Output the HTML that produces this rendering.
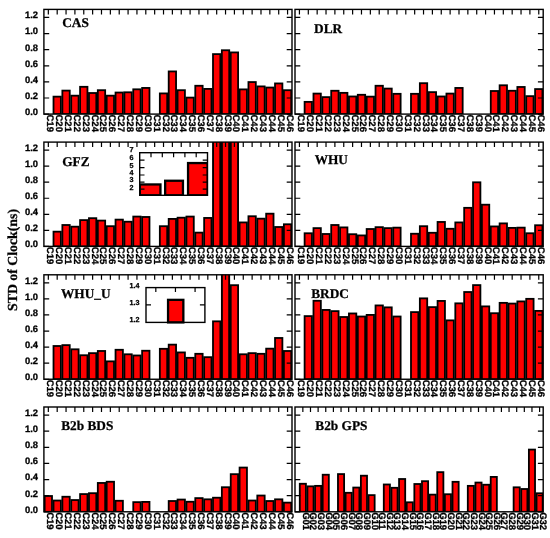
<!DOCTYPE html>
<html><head><meta charset="utf-8"><title>STD of Clock</title>
<style>html,body{margin:0;padding:0;background:#fff}svg{display:block}text{text-rendering:geometricPrecision}</style>
</head><body>
<svg width="550" height="538" viewBox="0 0 550 538">
<rect width="550" height="538" fill="#fff"/>
<clipPath id="cp00"><rect x="43.9" y="9.4" width="248.1" height="104.7"/></clipPath>
<g clip-path="url(#cp00)" fill="#ff0000" stroke="#000" stroke-width="1.8">
<rect x="53.51" y="96.64" width="7.36" height="17.46"/>
<rect x="62.37" y="90.6" width="7.36" height="23.5"/>
<rect x="71.23" y="95.67" width="7.36" height="18.43"/>
<rect x="80.09" y="86.81" width="7.36" height="27.29"/>
<rect x="88.95" y="93.01" width="7.36" height="21.09"/>
<rect x="97.81" y="90.19" width="7.36" height="23.91"/>
<rect x="106.67" y="95.67" width="7.36" height="18.43"/>
<rect x="115.54" y="92.53" width="7.36" height="21.57"/>
<rect x="124.4" y="92.29" width="7.36" height="21.81"/>
<rect x="133.26" y="89.31" width="7.36" height="24.79"/>
<rect x="142.12" y="87.94" width="7.36" height="26.16"/>
<rect x="159.84" y="93.42" width="7.36" height="20.68"/>
<rect x="168.7" y="71.43" width="7.36" height="42.67"/>
<rect x="177.56" y="90.19" width="7.36" height="23.91"/>
<rect x="186.42" y="97.6" width="7.36" height="16.5"/>
<rect x="195.28" y="85.76" width="7.36" height="28.34"/>
<rect x="204.14" y="88.91" width="7.36" height="25.19"/>
<rect x="213" y="54.11" width="7.36" height="59.99"/>
<rect x="221.86" y="50.25" width="7.36" height="63.85"/>
<rect x="230.73" y="52.42" width="7.36" height="61.68"/>
<rect x="239.59" y="89.39" width="7.36" height="24.71"/>
<rect x="248.45" y="82.06" width="7.36" height="32.04"/>
<rect x="257.31" y="86.41" width="7.36" height="27.69"/>
<rect x="266.17" y="87.54" width="7.36" height="26.56"/>
<rect x="275.03" y="83.43" width="7.36" height="30.67"/>
<rect x="283.89" y="90.19" width="7.36" height="23.91"/>
</g>
<path d="M48.33 9.4v5M57.19 9.4v5M66.05 9.4v5M74.91 9.4v5M83.77 9.4v5M92.63 9.4v5M101.49 9.4v5M110.36 9.4v5M119.22 9.4v5M128.08 9.4v5M136.94 9.4v5M145.8 9.4v5M154.66 9.4v5M163.52 9.4v5M172.38 9.4v5M181.24 9.4v5M190.1 9.4v5M198.96 9.4v5M207.82 9.4v5M216.68 9.4v5M225.54 9.4v5M234.41 9.4v5M243.27 9.4v5M252.13 9.4v5M260.99 9.4v5M269.85 9.4v5M278.71 9.4v5M287.57 9.4v5M43.9 114.1h5.3M292 114.1h-5.3M43.9 97.99h5.3M292 97.99h-5.3M43.9 81.88h5.3M292 81.88h-5.3M43.9 65.78h5.3M292 65.78h-5.3M43.9 49.67h5.3M292 49.67h-5.3M43.9 33.56h5.3M292 33.56h-5.3M43.9 17.45h5.3M292 17.45h-5.3" stroke="#000" stroke-width="1.2" fill="none"/>
<rect x="43.9" y="9.4" width="248.1" height="104.7" fill="none" stroke="#000" stroke-width="1.4"/>
<text x="62.2" y="27" font-family='"Liberation Serif", "Times New Roman", Times, serif' font-weight="bold" font-size="13.3" stroke="#000" stroke-width="0.25">CAS</text>
<text transform="translate(47.33 114.5) rotate(90)" font-family='"Liberation Sans", Arial, Helvetica, sans-serif' font-weight="bold" font-size="9.5" stroke="#000" stroke-width="0.3">C19</text>
<text transform="translate(56.19 114.5) rotate(90)" font-family='"Liberation Sans", Arial, Helvetica, sans-serif' font-weight="bold" font-size="9.5" stroke="#000" stroke-width="0.3">C20</text>
<text transform="translate(65.05 114.5) rotate(90)" font-family='"Liberation Sans", Arial, Helvetica, sans-serif' font-weight="bold" font-size="9.5" stroke="#000" stroke-width="0.3">C21</text>
<text transform="translate(73.91 114.5) rotate(90)" font-family='"Liberation Sans", Arial, Helvetica, sans-serif' font-weight="bold" font-size="9.5" stroke="#000" stroke-width="0.3">C22</text>
<text transform="translate(82.77 114.5) rotate(90)" font-family='"Liberation Sans", Arial, Helvetica, sans-serif' font-weight="bold" font-size="9.5" stroke="#000" stroke-width="0.3">C23</text>
<text transform="translate(91.63 114.5) rotate(90)" font-family='"Liberation Sans", Arial, Helvetica, sans-serif' font-weight="bold" font-size="9.5" stroke="#000" stroke-width="0.3">C24</text>
<text transform="translate(100.49 114.5) rotate(90)" font-family='"Liberation Sans", Arial, Helvetica, sans-serif' font-weight="bold" font-size="9.5" stroke="#000" stroke-width="0.3">C25</text>
<text transform="translate(109.36 114.5) rotate(90)" font-family='"Liberation Sans", Arial, Helvetica, sans-serif' font-weight="bold" font-size="9.5" stroke="#000" stroke-width="0.3">C26</text>
<text transform="translate(118.22 114.5) rotate(90)" font-family='"Liberation Sans", Arial, Helvetica, sans-serif' font-weight="bold" font-size="9.5" stroke="#000" stroke-width="0.3">C27</text>
<text transform="translate(127.08 114.5) rotate(90)" font-family='"Liberation Sans", Arial, Helvetica, sans-serif' font-weight="bold" font-size="9.5" stroke="#000" stroke-width="0.3">C28</text>
<text transform="translate(135.94 114.5) rotate(90)" font-family='"Liberation Sans", Arial, Helvetica, sans-serif' font-weight="bold" font-size="9.5" stroke="#000" stroke-width="0.3">C29</text>
<text transform="translate(144.8 114.5) rotate(90)" font-family='"Liberation Sans", Arial, Helvetica, sans-serif' font-weight="bold" font-size="9.5" stroke="#000" stroke-width="0.3">C30</text>
<text transform="translate(153.66 114.5) rotate(90)" font-family='"Liberation Sans", Arial, Helvetica, sans-serif' font-weight="bold" font-size="9.5" stroke="#000" stroke-width="0.3">C31</text>
<text transform="translate(162.52 114.5) rotate(90)" font-family='"Liberation Sans", Arial, Helvetica, sans-serif' font-weight="bold" font-size="9.5" stroke="#000" stroke-width="0.3">C32</text>
<text transform="translate(171.38 114.5) rotate(90)" font-family='"Liberation Sans", Arial, Helvetica, sans-serif' font-weight="bold" font-size="9.5" stroke="#000" stroke-width="0.3">C33</text>
<text transform="translate(180.24 114.5) rotate(90)" font-family='"Liberation Sans", Arial, Helvetica, sans-serif' font-weight="bold" font-size="9.5" stroke="#000" stroke-width="0.3">C34</text>
<text transform="translate(189.1 114.5) rotate(90)" font-family='"Liberation Sans", Arial, Helvetica, sans-serif' font-weight="bold" font-size="9.5" stroke="#000" stroke-width="0.3">C35</text>
<text transform="translate(197.96 114.5) rotate(90)" font-family='"Liberation Sans", Arial, Helvetica, sans-serif' font-weight="bold" font-size="9.5" stroke="#000" stroke-width="0.3">C36</text>
<text transform="translate(206.82 114.5) rotate(90)" font-family='"Liberation Sans", Arial, Helvetica, sans-serif' font-weight="bold" font-size="9.5" stroke="#000" stroke-width="0.3">C37</text>
<text transform="translate(215.68 114.5) rotate(90)" font-family='"Liberation Sans", Arial, Helvetica, sans-serif' font-weight="bold" font-size="9.5" stroke="#000" stroke-width="0.3">C38</text>
<text transform="translate(224.54 114.5) rotate(90)" font-family='"Liberation Sans", Arial, Helvetica, sans-serif' font-weight="bold" font-size="9.5" stroke="#000" stroke-width="0.3">C39</text>
<text transform="translate(233.41 114.5) rotate(90)" font-family='"Liberation Sans", Arial, Helvetica, sans-serif' font-weight="bold" font-size="9.5" stroke="#000" stroke-width="0.3">C40</text>
<text transform="translate(242.27 114.5) rotate(90)" font-family='"Liberation Sans", Arial, Helvetica, sans-serif' font-weight="bold" font-size="9.5" stroke="#000" stroke-width="0.3">C41</text>
<text transform="translate(251.13 114.5) rotate(90)" font-family='"Liberation Sans", Arial, Helvetica, sans-serif' font-weight="bold" font-size="9.5" stroke="#000" stroke-width="0.3">C42</text>
<text transform="translate(259.99 114.5) rotate(90)" font-family='"Liberation Sans", Arial, Helvetica, sans-serif' font-weight="bold" font-size="9.5" stroke="#000" stroke-width="0.3">C43</text>
<text transform="translate(268.85 114.5) rotate(90)" font-family='"Liberation Sans", Arial, Helvetica, sans-serif' font-weight="bold" font-size="9.5" stroke="#000" stroke-width="0.3">C44</text>
<text transform="translate(277.71 114.5) rotate(90)" font-family='"Liberation Sans", Arial, Helvetica, sans-serif' font-weight="bold" font-size="9.5" stroke="#000" stroke-width="0.3">C45</text>
<text transform="translate(286.57 114.5) rotate(90)" font-family='"Liberation Sans", Arial, Helvetica, sans-serif' font-weight="bold" font-size="9.5" stroke="#000" stroke-width="0.3">C46</text>
<text x="38.0" y="115" text-anchor="end" font-family='"Liberation Sans", Arial, Helvetica, sans-serif' font-weight="bold" font-size="9.4" stroke="#000" stroke-width="0.3">0.0</text>
<text x="38.0" y="98.89" text-anchor="end" font-family='"Liberation Sans", Arial, Helvetica, sans-serif' font-weight="bold" font-size="9.4" stroke="#000" stroke-width="0.3">0.2</text>
<text x="38.0" y="82.78" text-anchor="end" font-family='"Liberation Sans", Arial, Helvetica, sans-serif' font-weight="bold" font-size="9.4" stroke="#000" stroke-width="0.3">0.4</text>
<text x="38.0" y="66.68" text-anchor="end" font-family='"Liberation Sans", Arial, Helvetica, sans-serif' font-weight="bold" font-size="9.4" stroke="#000" stroke-width="0.3">0.6</text>
<text x="38.0" y="50.57" text-anchor="end" font-family='"Liberation Sans", Arial, Helvetica, sans-serif' font-weight="bold" font-size="9.4" stroke="#000" stroke-width="0.3">0.8</text>
<text x="38.0" y="34.46" text-anchor="end" font-family='"Liberation Sans", Arial, Helvetica, sans-serif' font-weight="bold" font-size="9.4" stroke="#000" stroke-width="0.3">1.0</text>
<text x="38.0" y="18.35" text-anchor="end" font-family='"Liberation Sans", Arial, Helvetica, sans-serif' font-weight="bold" font-size="9.4" stroke="#000" stroke-width="0.3">1.2</text>
<clipPath id="cp01"><rect x="295" y="9.4" width="248.2" height="104.7"/></clipPath>
<g clip-path="url(#cp01)" fill="#ff0000" stroke="#000" stroke-width="1.8">
<rect x="304.61" y="101.87" width="7.36" height="12.23"/>
<rect x="313.48" y="93.58" width="7.36" height="20.52"/>
<rect x="322.34" y="97.12" width="7.36" height="16.98"/>
<rect x="331.21" y="90.76" width="7.36" height="23.34"/>
<rect x="340.07" y="92.85" width="7.36" height="21.25"/>
<rect x="348.94" y="96.48" width="7.36" height="17.62"/>
<rect x="357.8" y="94.78" width="7.36" height="19.32"/>
<rect x="366.66" y="96.64" width="7.36" height="17.46"/>
<rect x="375.53" y="85.76" width="7.36" height="28.34"/>
<rect x="384.39" y="88.58" width="7.36" height="25.52"/>
<rect x="393.26" y="93.82" width="7.36" height="20.28"/>
<rect x="410.99" y="93.82" width="7.36" height="20.28"/>
<rect x="419.85" y="83.19" width="7.36" height="30.91"/>
<rect x="428.71" y="92.13" width="7.36" height="21.97"/>
<rect x="437.58" y="96.48" width="7.36" height="17.62"/>
<rect x="446.44" y="93.58" width="7.36" height="20.52"/>
<rect x="455.31" y="87.94" width="7.36" height="26.16"/>
<rect x="490.76" y="91" width="7.36" height="23.1"/>
<rect x="499.63" y="85.28" width="7.36" height="28.82"/>
<rect x="508.49" y="90.76" width="7.36" height="23.34"/>
<rect x="517.36" y="86.97" width="7.36" height="27.13"/>
<rect x="526.22" y="96.15" width="7.36" height="17.95"/>
<rect x="535.09" y="89.07" width="7.36" height="25.03"/>
</g>
<path d="M299.43 9.4v5M308.3 9.4v5M317.16 9.4v5M326.02 9.4v5M334.89 9.4v5M343.75 9.4v5M352.62 9.4v5M361.48 9.4v5M370.35 9.4v5M379.21 9.4v5M388.08 9.4v5M396.94 9.4v5M405.8 9.4v5M414.67 9.4v5M423.53 9.4v5M432.4 9.4v5M441.26 9.4v5M450.12 9.4v5M458.99 9.4v5M467.85 9.4v5M476.72 9.4v5M485.58 9.4v5M494.45 9.4v5M503.31 9.4v5M512.18 9.4v5M521.04 9.4v5M529.9 9.4v5M538.77 9.4v5M295 114.1h5.3M543.2 114.1h-5.3M295 97.99h5.3M543.2 97.99h-5.3M295 81.88h5.3M543.2 81.88h-5.3M295 65.78h5.3M543.2 65.78h-5.3M295 49.67h5.3M543.2 49.67h-5.3M295 33.56h5.3M543.2 33.56h-5.3M295 17.45h5.3M543.2 17.45h-5.3" stroke="#000" stroke-width="1.2" fill="none"/>
<rect x="295" y="9.4" width="248.2" height="104.7" fill="none" stroke="#000" stroke-width="1.4"/>
<text x="314.1" y="32.5" font-family='"Liberation Serif", "Times New Roman", Times, serif' font-weight="bold" font-size="13.3" stroke="#000" stroke-width="0.25">DLR</text>
<text transform="translate(298.43 114.5) rotate(90)" font-family='"Liberation Sans", Arial, Helvetica, sans-serif' font-weight="bold" font-size="9.5" stroke="#000" stroke-width="0.3">C19</text>
<text transform="translate(307.3 114.5) rotate(90)" font-family='"Liberation Sans", Arial, Helvetica, sans-serif' font-weight="bold" font-size="9.5" stroke="#000" stroke-width="0.3">C20</text>
<text transform="translate(316.16 114.5) rotate(90)" font-family='"Liberation Sans", Arial, Helvetica, sans-serif' font-weight="bold" font-size="9.5" stroke="#000" stroke-width="0.3">C21</text>
<text transform="translate(325.02 114.5) rotate(90)" font-family='"Liberation Sans", Arial, Helvetica, sans-serif' font-weight="bold" font-size="9.5" stroke="#000" stroke-width="0.3">C22</text>
<text transform="translate(333.89 114.5) rotate(90)" font-family='"Liberation Sans", Arial, Helvetica, sans-serif' font-weight="bold" font-size="9.5" stroke="#000" stroke-width="0.3">C23</text>
<text transform="translate(342.75 114.5) rotate(90)" font-family='"Liberation Sans", Arial, Helvetica, sans-serif' font-weight="bold" font-size="9.5" stroke="#000" stroke-width="0.3">C24</text>
<text transform="translate(351.62 114.5) rotate(90)" font-family='"Liberation Sans", Arial, Helvetica, sans-serif' font-weight="bold" font-size="9.5" stroke="#000" stroke-width="0.3">C25</text>
<text transform="translate(360.48 114.5) rotate(90)" font-family='"Liberation Sans", Arial, Helvetica, sans-serif' font-weight="bold" font-size="9.5" stroke="#000" stroke-width="0.3">C26</text>
<text transform="translate(369.35 114.5) rotate(90)" font-family='"Liberation Sans", Arial, Helvetica, sans-serif' font-weight="bold" font-size="9.5" stroke="#000" stroke-width="0.3">C27</text>
<text transform="translate(378.21 114.5) rotate(90)" font-family='"Liberation Sans", Arial, Helvetica, sans-serif' font-weight="bold" font-size="9.5" stroke="#000" stroke-width="0.3">C28</text>
<text transform="translate(387.08 114.5) rotate(90)" font-family='"Liberation Sans", Arial, Helvetica, sans-serif' font-weight="bold" font-size="9.5" stroke="#000" stroke-width="0.3">C29</text>
<text transform="translate(395.94 114.5) rotate(90)" font-family='"Liberation Sans", Arial, Helvetica, sans-serif' font-weight="bold" font-size="9.5" stroke="#000" stroke-width="0.3">C30</text>
<text transform="translate(404.8 114.5) rotate(90)" font-family='"Liberation Sans", Arial, Helvetica, sans-serif' font-weight="bold" font-size="9.5" stroke="#000" stroke-width="0.3">C31</text>
<text transform="translate(413.67 114.5) rotate(90)" font-family='"Liberation Sans", Arial, Helvetica, sans-serif' font-weight="bold" font-size="9.5" stroke="#000" stroke-width="0.3">C32</text>
<text transform="translate(422.53 114.5) rotate(90)" font-family='"Liberation Sans", Arial, Helvetica, sans-serif' font-weight="bold" font-size="9.5" stroke="#000" stroke-width="0.3">C33</text>
<text transform="translate(431.4 114.5) rotate(90)" font-family='"Liberation Sans", Arial, Helvetica, sans-serif' font-weight="bold" font-size="9.5" stroke="#000" stroke-width="0.3">C34</text>
<text transform="translate(440.26 114.5) rotate(90)" font-family='"Liberation Sans", Arial, Helvetica, sans-serif' font-weight="bold" font-size="9.5" stroke="#000" stroke-width="0.3">C35</text>
<text transform="translate(449.12 114.5) rotate(90)" font-family='"Liberation Sans", Arial, Helvetica, sans-serif' font-weight="bold" font-size="9.5" stroke="#000" stroke-width="0.3">C36</text>
<text transform="translate(457.99 114.5) rotate(90)" font-family='"Liberation Sans", Arial, Helvetica, sans-serif' font-weight="bold" font-size="9.5" stroke="#000" stroke-width="0.3">C37</text>
<text transform="translate(466.85 114.5) rotate(90)" font-family='"Liberation Sans", Arial, Helvetica, sans-serif' font-weight="bold" font-size="9.5" stroke="#000" stroke-width="0.3">C38</text>
<text transform="translate(475.72 114.5) rotate(90)" font-family='"Liberation Sans", Arial, Helvetica, sans-serif' font-weight="bold" font-size="9.5" stroke="#000" stroke-width="0.3">C39</text>
<text transform="translate(484.58 114.5) rotate(90)" font-family='"Liberation Sans", Arial, Helvetica, sans-serif' font-weight="bold" font-size="9.5" stroke="#000" stroke-width="0.3">C40</text>
<text transform="translate(493.45 114.5) rotate(90)" font-family='"Liberation Sans", Arial, Helvetica, sans-serif' font-weight="bold" font-size="9.5" stroke="#000" stroke-width="0.3">C41</text>
<text transform="translate(502.31 114.5) rotate(90)" font-family='"Liberation Sans", Arial, Helvetica, sans-serif' font-weight="bold" font-size="9.5" stroke="#000" stroke-width="0.3">C42</text>
<text transform="translate(511.18 114.5) rotate(90)" font-family='"Liberation Sans", Arial, Helvetica, sans-serif' font-weight="bold" font-size="9.5" stroke="#000" stroke-width="0.3">C43</text>
<text transform="translate(520.04 114.5) rotate(90)" font-family='"Liberation Sans", Arial, Helvetica, sans-serif' font-weight="bold" font-size="9.5" stroke="#000" stroke-width="0.3">C44</text>
<text transform="translate(528.9 114.5) rotate(90)" font-family='"Liberation Sans", Arial, Helvetica, sans-serif' font-weight="bold" font-size="9.5" stroke="#000" stroke-width="0.3">C45</text>
<text transform="translate(537.77 114.5) rotate(90)" font-family='"Liberation Sans", Arial, Helvetica, sans-serif' font-weight="bold" font-size="9.5" stroke="#000" stroke-width="0.3">C46</text>
<clipPath id="cp10"><rect x="43.9" y="142.1" width="248.1" height="104.3"/></clipPath>
<g clip-path="url(#cp10)" fill="#ff0000" stroke="#000" stroke-width="1.8">
<rect x="53.51" y="231.66" width="7.36" height="14.75"/>
<rect x="62.37" y="225" width="7.36" height="21.4"/>
<rect x="71.23" y="226.68" width="7.36" height="19.72"/>
<rect x="80.09" y="220.1" width="7.36" height="26.3"/>
<rect x="88.95" y="218.18" width="7.36" height="28.22"/>
<rect x="97.81" y="220.58" width="7.36" height="25.82"/>
<rect x="106.67" y="226.2" width="7.36" height="20.2"/>
<rect x="115.54" y="219.62" width="7.36" height="26.78"/>
<rect x="124.4" y="221.71" width="7.36" height="24.69"/>
<rect x="133.26" y="216.57" width="7.36" height="29.83"/>
<rect x="142.12" y="216.97" width="7.36" height="29.43"/>
<rect x="159.84" y="226.2" width="7.36" height="20.2"/>
<rect x="168.7" y="218.9" width="7.36" height="27.5"/>
<rect x="177.56" y="217.69" width="7.36" height="28.71"/>
<rect x="186.42" y="216.57" width="7.36" height="29.83"/>
<rect x="195.28" y="232.62" width="7.36" height="13.78"/>
<rect x="204.14" y="217.94" width="7.36" height="28.46"/>
<rect x="213.05" y="85.8" width="7.26" height="160.6" stroke-width="1.9"/>
<rect x="221.91" y="85.8" width="7.26" height="160.6" stroke-width="1.9"/>
<rect x="230.78" y="85.8" width="7.26" height="160.6" stroke-width="1.9"/>
<rect x="239.59" y="222.43" width="7.36" height="23.97"/>
<rect x="248.45" y="216.25" width="7.36" height="30.15"/>
<rect x="257.31" y="218.66" width="7.36" height="27.74"/>
<rect x="266.17" y="213.68" width="7.36" height="32.72"/>
<rect x="275.03" y="227" width="7.36" height="19.4"/>
<rect x="283.89" y="224.27" width="7.36" height="22.13"/>
</g>
<path d="M48.33 142.1v5M57.19 142.1v5M66.05 142.1v5M74.91 142.1v5M83.77 142.1v5M92.63 142.1v5M101.49 142.1v5M110.36 142.1v5M119.22 142.1v5M128.08 142.1v5M136.94 142.1v5M145.8 142.1v5M154.66 142.1v5M163.52 142.1v5M172.38 142.1v5M181.24 142.1v5M190.1 142.1v5M198.96 142.1v5M207.82 142.1v5M216.68 142.1v5M225.54 142.1v5M234.41 142.1v5M243.27 142.1v5M252.13 142.1v5M260.99 142.1v5M269.85 142.1v5M278.71 142.1v5M287.57 142.1v5M43.9 246.4h5.3M292 246.4h-5.3M43.9 230.35h5.3M292 230.35h-5.3M43.9 214.31h5.3M292 214.31h-5.3M43.9 198.26h5.3M292 198.26h-5.3M43.9 182.22h5.3M292 182.22h-5.3M43.9 166.17h5.3M292 166.17h-5.3M43.9 150.12h5.3M292 150.12h-5.3" stroke="#000" stroke-width="1.2" fill="none"/>
<rect x="43.9" y="142.1" width="248.1" height="104.3" fill="none" stroke="#000" stroke-width="1.4"/>
<text x="62.2" y="166.4" font-family='"Liberation Serif", "Times New Roman", Times, serif' font-weight="bold" font-size="13.3" stroke="#000" stroke-width="0.25">GFZ</text>
<text transform="translate(47.33 246.8) rotate(90)" font-family='"Liberation Sans", Arial, Helvetica, sans-serif' font-weight="bold" font-size="9.5" stroke="#000" stroke-width="0.3">C19</text>
<text transform="translate(56.19 246.8) rotate(90)" font-family='"Liberation Sans", Arial, Helvetica, sans-serif' font-weight="bold" font-size="9.5" stroke="#000" stroke-width="0.3">C20</text>
<text transform="translate(65.05 246.8) rotate(90)" font-family='"Liberation Sans", Arial, Helvetica, sans-serif' font-weight="bold" font-size="9.5" stroke="#000" stroke-width="0.3">C21</text>
<text transform="translate(73.91 246.8) rotate(90)" font-family='"Liberation Sans", Arial, Helvetica, sans-serif' font-weight="bold" font-size="9.5" stroke="#000" stroke-width="0.3">C22</text>
<text transform="translate(82.77 246.8) rotate(90)" font-family='"Liberation Sans", Arial, Helvetica, sans-serif' font-weight="bold" font-size="9.5" stroke="#000" stroke-width="0.3">C23</text>
<text transform="translate(91.63 246.8) rotate(90)" font-family='"Liberation Sans", Arial, Helvetica, sans-serif' font-weight="bold" font-size="9.5" stroke="#000" stroke-width="0.3">C24</text>
<text transform="translate(100.49 246.8) rotate(90)" font-family='"Liberation Sans", Arial, Helvetica, sans-serif' font-weight="bold" font-size="9.5" stroke="#000" stroke-width="0.3">C25</text>
<text transform="translate(109.36 246.8) rotate(90)" font-family='"Liberation Sans", Arial, Helvetica, sans-serif' font-weight="bold" font-size="9.5" stroke="#000" stroke-width="0.3">C26</text>
<text transform="translate(118.22 246.8) rotate(90)" font-family='"Liberation Sans", Arial, Helvetica, sans-serif' font-weight="bold" font-size="9.5" stroke="#000" stroke-width="0.3">C27</text>
<text transform="translate(127.08 246.8) rotate(90)" font-family='"Liberation Sans", Arial, Helvetica, sans-serif' font-weight="bold" font-size="9.5" stroke="#000" stroke-width="0.3">C28</text>
<text transform="translate(135.94 246.8) rotate(90)" font-family='"Liberation Sans", Arial, Helvetica, sans-serif' font-weight="bold" font-size="9.5" stroke="#000" stroke-width="0.3">C29</text>
<text transform="translate(144.8 246.8) rotate(90)" font-family='"Liberation Sans", Arial, Helvetica, sans-serif' font-weight="bold" font-size="9.5" stroke="#000" stroke-width="0.3">C30</text>
<text transform="translate(153.66 246.8) rotate(90)" font-family='"Liberation Sans", Arial, Helvetica, sans-serif' font-weight="bold" font-size="9.5" stroke="#000" stroke-width="0.3">C31</text>
<text transform="translate(162.52 246.8) rotate(90)" font-family='"Liberation Sans", Arial, Helvetica, sans-serif' font-weight="bold" font-size="9.5" stroke="#000" stroke-width="0.3">C32</text>
<text transform="translate(171.38 246.8) rotate(90)" font-family='"Liberation Sans", Arial, Helvetica, sans-serif' font-weight="bold" font-size="9.5" stroke="#000" stroke-width="0.3">C33</text>
<text transform="translate(180.24 246.8) rotate(90)" font-family='"Liberation Sans", Arial, Helvetica, sans-serif' font-weight="bold" font-size="9.5" stroke="#000" stroke-width="0.3">C34</text>
<text transform="translate(189.1 246.8) rotate(90)" font-family='"Liberation Sans", Arial, Helvetica, sans-serif' font-weight="bold" font-size="9.5" stroke="#000" stroke-width="0.3">C35</text>
<text transform="translate(197.96 246.8) rotate(90)" font-family='"Liberation Sans", Arial, Helvetica, sans-serif' font-weight="bold" font-size="9.5" stroke="#000" stroke-width="0.3">C36</text>
<text transform="translate(206.82 246.8) rotate(90)" font-family='"Liberation Sans", Arial, Helvetica, sans-serif' font-weight="bold" font-size="9.5" stroke="#000" stroke-width="0.3">C37</text>
<text transform="translate(215.68 246.8) rotate(90)" font-family='"Liberation Sans", Arial, Helvetica, sans-serif' font-weight="bold" font-size="9.5" stroke="#000" stroke-width="0.3">C38</text>
<text transform="translate(224.54 246.8) rotate(90)" font-family='"Liberation Sans", Arial, Helvetica, sans-serif' font-weight="bold" font-size="9.5" stroke="#000" stroke-width="0.3">C39</text>
<text transform="translate(233.41 246.8) rotate(90)" font-family='"Liberation Sans", Arial, Helvetica, sans-serif' font-weight="bold" font-size="9.5" stroke="#000" stroke-width="0.3">C40</text>
<text transform="translate(242.27 246.8) rotate(90)" font-family='"Liberation Sans", Arial, Helvetica, sans-serif' font-weight="bold" font-size="9.5" stroke="#000" stroke-width="0.3">C41</text>
<text transform="translate(251.13 246.8) rotate(90)" font-family='"Liberation Sans", Arial, Helvetica, sans-serif' font-weight="bold" font-size="9.5" stroke="#000" stroke-width="0.3">C42</text>
<text transform="translate(259.99 246.8) rotate(90)" font-family='"Liberation Sans", Arial, Helvetica, sans-serif' font-weight="bold" font-size="9.5" stroke="#000" stroke-width="0.3">C43</text>
<text transform="translate(268.85 246.8) rotate(90)" font-family='"Liberation Sans", Arial, Helvetica, sans-serif' font-weight="bold" font-size="9.5" stroke="#000" stroke-width="0.3">C44</text>
<text transform="translate(277.71 246.8) rotate(90)" font-family='"Liberation Sans", Arial, Helvetica, sans-serif' font-weight="bold" font-size="9.5" stroke="#000" stroke-width="0.3">C45</text>
<text transform="translate(286.57 246.8) rotate(90)" font-family='"Liberation Sans", Arial, Helvetica, sans-serif' font-weight="bold" font-size="9.5" stroke="#000" stroke-width="0.3">C46</text>
<text x="38.0" y="247.3" text-anchor="end" font-family='"Liberation Sans", Arial, Helvetica, sans-serif' font-weight="bold" font-size="9.4" stroke="#000" stroke-width="0.3">0.0</text>
<text x="38.0" y="231.25" text-anchor="end" font-family='"Liberation Sans", Arial, Helvetica, sans-serif' font-weight="bold" font-size="9.4" stroke="#000" stroke-width="0.3">0.2</text>
<text x="38.0" y="215.21" text-anchor="end" font-family='"Liberation Sans", Arial, Helvetica, sans-serif' font-weight="bold" font-size="9.4" stroke="#000" stroke-width="0.3">0.4</text>
<text x="38.0" y="199.16" text-anchor="end" font-family='"Liberation Sans", Arial, Helvetica, sans-serif' font-weight="bold" font-size="9.4" stroke="#000" stroke-width="0.3">0.6</text>
<text x="38.0" y="183.12" text-anchor="end" font-family='"Liberation Sans", Arial, Helvetica, sans-serif' font-weight="bold" font-size="9.4" stroke="#000" stroke-width="0.3">0.8</text>
<text x="38.0" y="167.07" text-anchor="end" font-family='"Liberation Sans", Arial, Helvetica, sans-serif' font-weight="bold" font-size="9.4" stroke="#000" stroke-width="0.3">1.0</text>
<text x="38.0" y="151.02" text-anchor="end" font-family='"Liberation Sans", Arial, Helvetica, sans-serif' font-weight="bold" font-size="9.4" stroke="#000" stroke-width="0.3">1.2</text>
<clipPath id="cp11"><rect x="295" y="142.1" width="248.2" height="104.3"/></clipPath>
<g clip-path="url(#cp11)" fill="#ff0000" stroke="#000" stroke-width="1.8">
<rect x="304.61" y="233.26" width="7.36" height="13.14"/>
<rect x="313.48" y="228.12" width="7.36" height="18.28"/>
<rect x="322.34" y="233.98" width="7.36" height="12.42"/>
<rect x="331.21" y="225" width="7.36" height="21.4"/>
<rect x="340.07" y="227.4" width="7.36" height="19"/>
<rect x="348.94" y="234.22" width="7.36" height="12.18"/>
<rect x="357.8" y="235.43" width="7.36" height="10.97"/>
<rect x="366.66" y="229.01" width="7.36" height="17.39"/>
<rect x="375.53" y="227.16" width="7.36" height="19.24"/>
<rect x="384.39" y="228.12" width="7.36" height="18.28"/>
<rect x="393.26" y="227.64" width="7.36" height="18.76"/>
<rect x="410.99" y="233.74" width="7.36" height="12.66"/>
<rect x="419.85" y="226.2" width="7.36" height="20.2"/>
<rect x="428.71" y="232.78" width="7.36" height="13.62"/>
<rect x="437.58" y="221.95" width="7.36" height="24.45"/>
<rect x="446.44" y="228.77" width="7.36" height="17.63"/>
<rect x="455.31" y="222.43" width="7.36" height="23.97"/>
<rect x="464.17" y="207.83" width="7.36" height="38.57"/>
<rect x="473.04" y="182.31" width="7.36" height="64.09"/>
<rect x="481.9" y="204.7" width="7.36" height="41.7"/>
<rect x="490.76" y="226.44" width="7.36" height="19.96"/>
<rect x="499.63" y="223.39" width="7.36" height="23.01"/>
<rect x="508.49" y="227.88" width="7.36" height="18.52"/>
<rect x="517.36" y="227.64" width="7.36" height="18.76"/>
<rect x="526.22" y="233.26" width="7.36" height="13.14"/>
<rect x="535.09" y="225.24" width="7.36" height="21.16"/>
</g>
<path d="M299.43 142.1v5M308.3 142.1v5M317.16 142.1v5M326.02 142.1v5M334.89 142.1v5M343.75 142.1v5M352.62 142.1v5M361.48 142.1v5M370.35 142.1v5M379.21 142.1v5M388.08 142.1v5M396.94 142.1v5M405.8 142.1v5M414.67 142.1v5M423.53 142.1v5M432.4 142.1v5M441.26 142.1v5M450.12 142.1v5M458.99 142.1v5M467.85 142.1v5M476.72 142.1v5M485.58 142.1v5M494.45 142.1v5M503.31 142.1v5M512.18 142.1v5M521.04 142.1v5M529.9 142.1v5M538.77 142.1v5M295 246.4h5.3M543.2 246.4h-5.3M295 230.35h5.3M543.2 230.35h-5.3M295 214.31h5.3M543.2 214.31h-5.3M295 198.26h5.3M543.2 198.26h-5.3M295 182.22h5.3M543.2 182.22h-5.3M295 166.17h5.3M543.2 166.17h-5.3M295 150.12h5.3M543.2 150.12h-5.3" stroke="#000" stroke-width="1.2" fill="none"/>
<rect x="295" y="142.1" width="248.2" height="104.3" fill="none" stroke="#000" stroke-width="1.4"/>
<text x="314.7" y="163.9" font-family='"Liberation Serif", "Times New Roman", Times, serif' font-weight="bold" font-size="13.3" stroke="#000" stroke-width="0.25">WHU</text>
<text transform="translate(298.43 246.8) rotate(90)" font-family='"Liberation Sans", Arial, Helvetica, sans-serif' font-weight="bold" font-size="9.5" stroke="#000" stroke-width="0.3">C19</text>
<text transform="translate(307.3 246.8) rotate(90)" font-family='"Liberation Sans", Arial, Helvetica, sans-serif' font-weight="bold" font-size="9.5" stroke="#000" stroke-width="0.3">C20</text>
<text transform="translate(316.16 246.8) rotate(90)" font-family='"Liberation Sans", Arial, Helvetica, sans-serif' font-weight="bold" font-size="9.5" stroke="#000" stroke-width="0.3">C21</text>
<text transform="translate(325.02 246.8) rotate(90)" font-family='"Liberation Sans", Arial, Helvetica, sans-serif' font-weight="bold" font-size="9.5" stroke="#000" stroke-width="0.3">C22</text>
<text transform="translate(333.89 246.8) rotate(90)" font-family='"Liberation Sans", Arial, Helvetica, sans-serif' font-weight="bold" font-size="9.5" stroke="#000" stroke-width="0.3">C23</text>
<text transform="translate(342.75 246.8) rotate(90)" font-family='"Liberation Sans", Arial, Helvetica, sans-serif' font-weight="bold" font-size="9.5" stroke="#000" stroke-width="0.3">C24</text>
<text transform="translate(351.62 246.8) rotate(90)" font-family='"Liberation Sans", Arial, Helvetica, sans-serif' font-weight="bold" font-size="9.5" stroke="#000" stroke-width="0.3">C25</text>
<text transform="translate(360.48 246.8) rotate(90)" font-family='"Liberation Sans", Arial, Helvetica, sans-serif' font-weight="bold" font-size="9.5" stroke="#000" stroke-width="0.3">C26</text>
<text transform="translate(369.35 246.8) rotate(90)" font-family='"Liberation Sans", Arial, Helvetica, sans-serif' font-weight="bold" font-size="9.5" stroke="#000" stroke-width="0.3">C27</text>
<text transform="translate(378.21 246.8) rotate(90)" font-family='"Liberation Sans", Arial, Helvetica, sans-serif' font-weight="bold" font-size="9.5" stroke="#000" stroke-width="0.3">C28</text>
<text transform="translate(387.08 246.8) rotate(90)" font-family='"Liberation Sans", Arial, Helvetica, sans-serif' font-weight="bold" font-size="9.5" stroke="#000" stroke-width="0.3">C29</text>
<text transform="translate(395.94 246.8) rotate(90)" font-family='"Liberation Sans", Arial, Helvetica, sans-serif' font-weight="bold" font-size="9.5" stroke="#000" stroke-width="0.3">C30</text>
<text transform="translate(404.8 246.8) rotate(90)" font-family='"Liberation Sans", Arial, Helvetica, sans-serif' font-weight="bold" font-size="9.5" stroke="#000" stroke-width="0.3">C31</text>
<text transform="translate(413.67 246.8) rotate(90)" font-family='"Liberation Sans", Arial, Helvetica, sans-serif' font-weight="bold" font-size="9.5" stroke="#000" stroke-width="0.3">C32</text>
<text transform="translate(422.53 246.8) rotate(90)" font-family='"Liberation Sans", Arial, Helvetica, sans-serif' font-weight="bold" font-size="9.5" stroke="#000" stroke-width="0.3">C33</text>
<text transform="translate(431.4 246.8) rotate(90)" font-family='"Liberation Sans", Arial, Helvetica, sans-serif' font-weight="bold" font-size="9.5" stroke="#000" stroke-width="0.3">C34</text>
<text transform="translate(440.26 246.8) rotate(90)" font-family='"Liberation Sans", Arial, Helvetica, sans-serif' font-weight="bold" font-size="9.5" stroke="#000" stroke-width="0.3">C35</text>
<text transform="translate(449.12 246.8) rotate(90)" font-family='"Liberation Sans", Arial, Helvetica, sans-serif' font-weight="bold" font-size="9.5" stroke="#000" stroke-width="0.3">C36</text>
<text transform="translate(457.99 246.8) rotate(90)" font-family='"Liberation Sans", Arial, Helvetica, sans-serif' font-weight="bold" font-size="9.5" stroke="#000" stroke-width="0.3">C37</text>
<text transform="translate(466.85 246.8) rotate(90)" font-family='"Liberation Sans", Arial, Helvetica, sans-serif' font-weight="bold" font-size="9.5" stroke="#000" stroke-width="0.3">C38</text>
<text transform="translate(475.72 246.8) rotate(90)" font-family='"Liberation Sans", Arial, Helvetica, sans-serif' font-weight="bold" font-size="9.5" stroke="#000" stroke-width="0.3">C39</text>
<text transform="translate(484.58 246.8) rotate(90)" font-family='"Liberation Sans", Arial, Helvetica, sans-serif' font-weight="bold" font-size="9.5" stroke="#000" stroke-width="0.3">C40</text>
<text transform="translate(493.45 246.8) rotate(90)" font-family='"Liberation Sans", Arial, Helvetica, sans-serif' font-weight="bold" font-size="9.5" stroke="#000" stroke-width="0.3">C41</text>
<text transform="translate(502.31 246.8) rotate(90)" font-family='"Liberation Sans", Arial, Helvetica, sans-serif' font-weight="bold" font-size="9.5" stroke="#000" stroke-width="0.3">C42</text>
<text transform="translate(511.18 246.8) rotate(90)" font-family='"Liberation Sans", Arial, Helvetica, sans-serif' font-weight="bold" font-size="9.5" stroke="#000" stroke-width="0.3">C43</text>
<text transform="translate(520.04 246.8) rotate(90)" font-family='"Liberation Sans", Arial, Helvetica, sans-serif' font-weight="bold" font-size="9.5" stroke="#000" stroke-width="0.3">C44</text>
<text transform="translate(528.9 246.8) rotate(90)" font-family='"Liberation Sans", Arial, Helvetica, sans-serif' font-weight="bold" font-size="9.5" stroke="#000" stroke-width="0.3">C45</text>
<text transform="translate(537.77 246.8) rotate(90)" font-family='"Liberation Sans", Arial, Helvetica, sans-serif' font-weight="bold" font-size="9.5" stroke="#000" stroke-width="0.3">C46</text>
<clipPath id="cp20"><rect x="43.9" y="274.8" width="248.1" height="104.45"/></clipPath>
<g clip-path="url(#cp20)" fill="#ff0000" stroke="#000" stroke-width="1.8">
<rect x="53.51" y="346" width="7.36" height="33.25"/>
<rect x="62.37" y="345.12" width="7.36" height="34.13"/>
<rect x="71.23" y="349.3" width="7.36" height="29.95"/>
<rect x="80.09" y="355.24" width="7.36" height="24.01"/>
<rect x="88.95" y="353.15" width="7.36" height="26.1"/>
<rect x="97.81" y="350.98" width="7.36" height="28.27"/>
<rect x="106.67" y="361.35" width="7.36" height="17.9"/>
<rect x="115.54" y="349.78" width="7.36" height="29.47"/>
<rect x="124.4" y="354.28" width="7.36" height="24.97"/>
<rect x="133.26" y="355.48" width="7.36" height="23.77"/>
<rect x="142.12" y="350.74" width="7.36" height="28.51"/>
<rect x="159.84" y="348.81" width="7.36" height="30.43"/>
<rect x="168.7" y="344.64" width="7.36" height="34.61"/>
<rect x="177.56" y="352.43" width="7.36" height="26.82"/>
<rect x="186.42" y="357.81" width="7.36" height="21.44"/>
<rect x="195.28" y="353.8" width="7.36" height="25.45"/>
<rect x="204.14" y="357.17" width="7.36" height="22.08"/>
<rect x="213" y="321.34" width="7.36" height="57.91"/>
<rect x="221.91" y="218.65" width="7.26" height="160.6" stroke-width="1.9"/>
<rect x="230.73" y="285.18" width="7.36" height="94.07"/>
<rect x="239.59" y="354.28" width="7.36" height="24.97"/>
<rect x="248.45" y="353.15" width="7.36" height="26.1"/>
<rect x="257.31" y="353.8" width="7.36" height="25.45"/>
<rect x="266.17" y="348.65" width="7.36" height="30.6"/>
<rect x="275.03" y="337.97" width="7.36" height="41.28"/>
<rect x="283.89" y="350.98" width="7.36" height="28.27"/>
</g>
<path d="M48.33 274.8v5M57.19 274.8v5M66.05 274.8v5M74.91 274.8v5M83.77 274.8v5M92.63 274.8v5M101.49 274.8v5M110.36 274.8v5M119.22 274.8v5M128.08 274.8v5M136.94 274.8v5M145.8 274.8v5M154.66 274.8v5M163.52 274.8v5M172.38 274.8v5M181.24 274.8v5M190.1 274.8v5M198.96 274.8v5M207.82 274.8v5M216.68 274.8v5M225.54 274.8v5M234.41 274.8v5M243.27 274.8v5M252.13 274.8v5M260.99 274.8v5M269.85 274.8v5M278.71 274.8v5M287.57 274.8v5M43.9 379.25h5.3M292 379.25h-5.3M43.9 363.18h5.3M292 363.18h-5.3M43.9 347.11h5.3M292 347.11h-5.3M43.9 331.04h5.3M292 331.04h-5.3M43.9 314.97h5.3M292 314.97h-5.3M43.9 298.9h5.3M292 298.9h-5.3M43.9 282.83h5.3M292 282.83h-5.3" stroke="#000" stroke-width="1.2" fill="none"/>
<rect x="43.9" y="274.8" width="248.1" height="104.45" fill="none" stroke="#000" stroke-width="1.4"/>
<text x="61" y="298.4" font-family='"Liberation Serif", "Times New Roman", Times, serif' font-weight="bold" font-size="13.3" stroke="#000" stroke-width="0.25">WHU_U</text>
<text transform="translate(47.33 379.65) rotate(90)" font-family='"Liberation Sans", Arial, Helvetica, sans-serif' font-weight="bold" font-size="9.5" stroke="#000" stroke-width="0.3">C19</text>
<text transform="translate(56.19 379.65) rotate(90)" font-family='"Liberation Sans", Arial, Helvetica, sans-serif' font-weight="bold" font-size="9.5" stroke="#000" stroke-width="0.3">C20</text>
<text transform="translate(65.05 379.65) rotate(90)" font-family='"Liberation Sans", Arial, Helvetica, sans-serif' font-weight="bold" font-size="9.5" stroke="#000" stroke-width="0.3">C21</text>
<text transform="translate(73.91 379.65) rotate(90)" font-family='"Liberation Sans", Arial, Helvetica, sans-serif' font-weight="bold" font-size="9.5" stroke="#000" stroke-width="0.3">C22</text>
<text transform="translate(82.77 379.65) rotate(90)" font-family='"Liberation Sans", Arial, Helvetica, sans-serif' font-weight="bold" font-size="9.5" stroke="#000" stroke-width="0.3">C23</text>
<text transform="translate(91.63 379.65) rotate(90)" font-family='"Liberation Sans", Arial, Helvetica, sans-serif' font-weight="bold" font-size="9.5" stroke="#000" stroke-width="0.3">C24</text>
<text transform="translate(100.49 379.65) rotate(90)" font-family='"Liberation Sans", Arial, Helvetica, sans-serif' font-weight="bold" font-size="9.5" stroke="#000" stroke-width="0.3">C25</text>
<text transform="translate(109.36 379.65) rotate(90)" font-family='"Liberation Sans", Arial, Helvetica, sans-serif' font-weight="bold" font-size="9.5" stroke="#000" stroke-width="0.3">C26</text>
<text transform="translate(118.22 379.65) rotate(90)" font-family='"Liberation Sans", Arial, Helvetica, sans-serif' font-weight="bold" font-size="9.5" stroke="#000" stroke-width="0.3">C27</text>
<text transform="translate(127.08 379.65) rotate(90)" font-family='"Liberation Sans", Arial, Helvetica, sans-serif' font-weight="bold" font-size="9.5" stroke="#000" stroke-width="0.3">C28</text>
<text transform="translate(135.94 379.65) rotate(90)" font-family='"Liberation Sans", Arial, Helvetica, sans-serif' font-weight="bold" font-size="9.5" stroke="#000" stroke-width="0.3">C29</text>
<text transform="translate(144.8 379.65) rotate(90)" font-family='"Liberation Sans", Arial, Helvetica, sans-serif' font-weight="bold" font-size="9.5" stroke="#000" stroke-width="0.3">C30</text>
<text transform="translate(153.66 379.65) rotate(90)" font-family='"Liberation Sans", Arial, Helvetica, sans-serif' font-weight="bold" font-size="9.5" stroke="#000" stroke-width="0.3">C31</text>
<text transform="translate(162.52 379.65) rotate(90)" font-family='"Liberation Sans", Arial, Helvetica, sans-serif' font-weight="bold" font-size="9.5" stroke="#000" stroke-width="0.3">C32</text>
<text transform="translate(171.38 379.65) rotate(90)" font-family='"Liberation Sans", Arial, Helvetica, sans-serif' font-weight="bold" font-size="9.5" stroke="#000" stroke-width="0.3">C33</text>
<text transform="translate(180.24 379.65) rotate(90)" font-family='"Liberation Sans", Arial, Helvetica, sans-serif' font-weight="bold" font-size="9.5" stroke="#000" stroke-width="0.3">C34</text>
<text transform="translate(189.1 379.65) rotate(90)" font-family='"Liberation Sans", Arial, Helvetica, sans-serif' font-weight="bold" font-size="9.5" stroke="#000" stroke-width="0.3">C35</text>
<text transform="translate(197.96 379.65) rotate(90)" font-family='"Liberation Sans", Arial, Helvetica, sans-serif' font-weight="bold" font-size="9.5" stroke="#000" stroke-width="0.3">C36</text>
<text transform="translate(206.82 379.65) rotate(90)" font-family='"Liberation Sans", Arial, Helvetica, sans-serif' font-weight="bold" font-size="9.5" stroke="#000" stroke-width="0.3">C37</text>
<text transform="translate(215.68 379.65) rotate(90)" font-family='"Liberation Sans", Arial, Helvetica, sans-serif' font-weight="bold" font-size="9.5" stroke="#000" stroke-width="0.3">C38</text>
<text transform="translate(224.54 379.65) rotate(90)" font-family='"Liberation Sans", Arial, Helvetica, sans-serif' font-weight="bold" font-size="9.5" stroke="#000" stroke-width="0.3">C39</text>
<text transform="translate(233.41 379.65) rotate(90)" font-family='"Liberation Sans", Arial, Helvetica, sans-serif' font-weight="bold" font-size="9.5" stroke="#000" stroke-width="0.3">C40</text>
<text transform="translate(242.27 379.65) rotate(90)" font-family='"Liberation Sans", Arial, Helvetica, sans-serif' font-weight="bold" font-size="9.5" stroke="#000" stroke-width="0.3">C41</text>
<text transform="translate(251.13 379.65) rotate(90)" font-family='"Liberation Sans", Arial, Helvetica, sans-serif' font-weight="bold" font-size="9.5" stroke="#000" stroke-width="0.3">C42</text>
<text transform="translate(259.99 379.65) rotate(90)" font-family='"Liberation Sans", Arial, Helvetica, sans-serif' font-weight="bold" font-size="9.5" stroke="#000" stroke-width="0.3">C43</text>
<text transform="translate(268.85 379.65) rotate(90)" font-family='"Liberation Sans", Arial, Helvetica, sans-serif' font-weight="bold" font-size="9.5" stroke="#000" stroke-width="0.3">C44</text>
<text transform="translate(277.71 379.65) rotate(90)" font-family='"Liberation Sans", Arial, Helvetica, sans-serif' font-weight="bold" font-size="9.5" stroke="#000" stroke-width="0.3">C45</text>
<text transform="translate(286.57 379.65) rotate(90)" font-family='"Liberation Sans", Arial, Helvetica, sans-serif' font-weight="bold" font-size="9.5" stroke="#000" stroke-width="0.3">C46</text>
<text x="38.0" y="380.15" text-anchor="end" font-family='"Liberation Sans", Arial, Helvetica, sans-serif' font-weight="bold" font-size="9.4" stroke="#000" stroke-width="0.3">0.0</text>
<text x="38.0" y="364.08" text-anchor="end" font-family='"Liberation Sans", Arial, Helvetica, sans-serif' font-weight="bold" font-size="9.4" stroke="#000" stroke-width="0.3">0.2</text>
<text x="38.0" y="348.01" text-anchor="end" font-family='"Liberation Sans", Arial, Helvetica, sans-serif' font-weight="bold" font-size="9.4" stroke="#000" stroke-width="0.3">0.4</text>
<text x="38.0" y="331.94" text-anchor="end" font-family='"Liberation Sans", Arial, Helvetica, sans-serif' font-weight="bold" font-size="9.4" stroke="#000" stroke-width="0.3">0.6</text>
<text x="38.0" y="315.87" text-anchor="end" font-family='"Liberation Sans", Arial, Helvetica, sans-serif' font-weight="bold" font-size="9.4" stroke="#000" stroke-width="0.3">0.8</text>
<text x="38.0" y="299.8" text-anchor="end" font-family='"Liberation Sans", Arial, Helvetica, sans-serif' font-weight="bold" font-size="9.4" stroke="#000" stroke-width="0.3">1.0</text>
<text x="38.0" y="283.73" text-anchor="end" font-family='"Liberation Sans", Arial, Helvetica, sans-serif' font-weight="bold" font-size="9.4" stroke="#000" stroke-width="0.3">1.2</text>
<clipPath id="cp21"><rect x="295" y="274.8" width="248.2" height="104.45"/></clipPath>
<g clip-path="url(#cp21)" fill="#ff0000" stroke="#000" stroke-width="1.8">
<rect x="304.61" y="316.11" width="7.36" height="63.14"/>
<rect x="313.48" y="300.77" width="7.36" height="78.48"/>
<rect x="322.34" y="309.93" width="7.36" height="69.32"/>
<rect x="331.21" y="311.13" width="7.36" height="68.12"/>
<rect x="340.07" y="317" width="7.36" height="62.25"/>
<rect x="348.94" y="313.46" width="7.36" height="65.79"/>
<rect x="357.8" y="316.52" width="7.36" height="62.73"/>
<rect x="366.66" y="314.91" width="7.36" height="64.34"/>
<rect x="375.53" y="305.43" width="7.36" height="73.82"/>
<rect x="384.39" y="307.36" width="7.36" height="71.89"/>
<rect x="393.26" y="316.52" width="7.36" height="62.73"/>
<rect x="410.99" y="312.1" width="7.36" height="67.15"/>
<rect x="419.85" y="298.36" width="7.36" height="80.89"/>
<rect x="428.71" y="307.12" width="7.36" height="72.13"/>
<rect x="437.58" y="300.93" width="7.36" height="78.32"/>
<rect x="446.44" y="320.37" width="7.36" height="58.88"/>
<rect x="455.31" y="303.34" width="7.36" height="75.91"/>
<rect x="464.17" y="292.01" width="7.36" height="87.24"/>
<rect x="473.04" y="285.1" width="7.36" height="94.15"/>
<rect x="481.9" y="306.39" width="7.36" height="72.86"/>
<rect x="490.76" y="313.22" width="7.36" height="66.03"/>
<rect x="499.63" y="302.86" width="7.36" height="76.39"/>
<rect x="508.49" y="303.58" width="7.36" height="75.67"/>
<rect x="517.36" y="301.41" width="7.36" height="77.84"/>
<rect x="526.22" y="298.84" width="7.36" height="80.41"/>
<rect x="535.09" y="310.89" width="7.36" height="68.36"/>
</g>
<path d="M299.43 274.8v5M308.3 274.8v5M317.16 274.8v5M326.02 274.8v5M334.89 274.8v5M343.75 274.8v5M352.62 274.8v5M361.48 274.8v5M370.35 274.8v5M379.21 274.8v5M388.08 274.8v5M396.94 274.8v5M405.8 274.8v5M414.67 274.8v5M423.53 274.8v5M432.4 274.8v5M441.26 274.8v5M450.12 274.8v5M458.99 274.8v5M467.85 274.8v5M476.72 274.8v5M485.58 274.8v5M494.45 274.8v5M503.31 274.8v5M512.18 274.8v5M521.04 274.8v5M529.9 274.8v5M538.77 274.8v5M295 379.25h5.3M543.2 379.25h-5.3M295 363.18h5.3M543.2 363.18h-5.3M295 347.11h5.3M543.2 347.11h-5.3M295 331.04h5.3M543.2 331.04h-5.3M295 314.97h5.3M543.2 314.97h-5.3M295 298.9h5.3M543.2 298.9h-5.3M295 282.83h5.3M543.2 282.83h-5.3" stroke="#000" stroke-width="1.2" fill="none"/>
<rect x="295" y="274.8" width="248.2" height="104.45" fill="none" stroke="#000" stroke-width="1.4"/>
<text x="311.2" y="298.1" font-family='"Liberation Serif", "Times New Roman", Times, serif' font-weight="bold" font-size="13.3" stroke="#000" stroke-width="0.25">BRDC</text>
<text transform="translate(298.43 379.65) rotate(90)" font-family='"Liberation Sans", Arial, Helvetica, sans-serif' font-weight="bold" font-size="9.5" stroke="#000" stroke-width="0.3">C19</text>
<text transform="translate(307.3 379.65) rotate(90)" font-family='"Liberation Sans", Arial, Helvetica, sans-serif' font-weight="bold" font-size="9.5" stroke="#000" stroke-width="0.3">C20</text>
<text transform="translate(316.16 379.65) rotate(90)" font-family='"Liberation Sans", Arial, Helvetica, sans-serif' font-weight="bold" font-size="9.5" stroke="#000" stroke-width="0.3">C21</text>
<text transform="translate(325.02 379.65) rotate(90)" font-family='"Liberation Sans", Arial, Helvetica, sans-serif' font-weight="bold" font-size="9.5" stroke="#000" stroke-width="0.3">C22</text>
<text transform="translate(333.89 379.65) rotate(90)" font-family='"Liberation Sans", Arial, Helvetica, sans-serif' font-weight="bold" font-size="9.5" stroke="#000" stroke-width="0.3">C23</text>
<text transform="translate(342.75 379.65) rotate(90)" font-family='"Liberation Sans", Arial, Helvetica, sans-serif' font-weight="bold" font-size="9.5" stroke="#000" stroke-width="0.3">C24</text>
<text transform="translate(351.62 379.65) rotate(90)" font-family='"Liberation Sans", Arial, Helvetica, sans-serif' font-weight="bold" font-size="9.5" stroke="#000" stroke-width="0.3">C25</text>
<text transform="translate(360.48 379.65) rotate(90)" font-family='"Liberation Sans", Arial, Helvetica, sans-serif' font-weight="bold" font-size="9.5" stroke="#000" stroke-width="0.3">C26</text>
<text transform="translate(369.35 379.65) rotate(90)" font-family='"Liberation Sans", Arial, Helvetica, sans-serif' font-weight="bold" font-size="9.5" stroke="#000" stroke-width="0.3">C27</text>
<text transform="translate(378.21 379.65) rotate(90)" font-family='"Liberation Sans", Arial, Helvetica, sans-serif' font-weight="bold" font-size="9.5" stroke="#000" stroke-width="0.3">C28</text>
<text transform="translate(387.08 379.65) rotate(90)" font-family='"Liberation Sans", Arial, Helvetica, sans-serif' font-weight="bold" font-size="9.5" stroke="#000" stroke-width="0.3">C29</text>
<text transform="translate(395.94 379.65) rotate(90)" font-family='"Liberation Sans", Arial, Helvetica, sans-serif' font-weight="bold" font-size="9.5" stroke="#000" stroke-width="0.3">C30</text>
<text transform="translate(404.8 379.65) rotate(90)" font-family='"Liberation Sans", Arial, Helvetica, sans-serif' font-weight="bold" font-size="9.5" stroke="#000" stroke-width="0.3">C31</text>
<text transform="translate(413.67 379.65) rotate(90)" font-family='"Liberation Sans", Arial, Helvetica, sans-serif' font-weight="bold" font-size="9.5" stroke="#000" stroke-width="0.3">C32</text>
<text transform="translate(422.53 379.65) rotate(90)" font-family='"Liberation Sans", Arial, Helvetica, sans-serif' font-weight="bold" font-size="9.5" stroke="#000" stroke-width="0.3">C33</text>
<text transform="translate(431.4 379.65) rotate(90)" font-family='"Liberation Sans", Arial, Helvetica, sans-serif' font-weight="bold" font-size="9.5" stroke="#000" stroke-width="0.3">C34</text>
<text transform="translate(440.26 379.65) rotate(90)" font-family='"Liberation Sans", Arial, Helvetica, sans-serif' font-weight="bold" font-size="9.5" stroke="#000" stroke-width="0.3">C35</text>
<text transform="translate(449.12 379.65) rotate(90)" font-family='"Liberation Sans", Arial, Helvetica, sans-serif' font-weight="bold" font-size="9.5" stroke="#000" stroke-width="0.3">C36</text>
<text transform="translate(457.99 379.65) rotate(90)" font-family='"Liberation Sans", Arial, Helvetica, sans-serif' font-weight="bold" font-size="9.5" stroke="#000" stroke-width="0.3">C37</text>
<text transform="translate(466.85 379.65) rotate(90)" font-family='"Liberation Sans", Arial, Helvetica, sans-serif' font-weight="bold" font-size="9.5" stroke="#000" stroke-width="0.3">C38</text>
<text transform="translate(475.72 379.65) rotate(90)" font-family='"Liberation Sans", Arial, Helvetica, sans-serif' font-weight="bold" font-size="9.5" stroke="#000" stroke-width="0.3">C39</text>
<text transform="translate(484.58 379.65) rotate(90)" font-family='"Liberation Sans", Arial, Helvetica, sans-serif' font-weight="bold" font-size="9.5" stroke="#000" stroke-width="0.3">C40</text>
<text transform="translate(493.45 379.65) rotate(90)" font-family='"Liberation Sans", Arial, Helvetica, sans-serif' font-weight="bold" font-size="9.5" stroke="#000" stroke-width="0.3">C41</text>
<text transform="translate(502.31 379.65) rotate(90)" font-family='"Liberation Sans", Arial, Helvetica, sans-serif' font-weight="bold" font-size="9.5" stroke="#000" stroke-width="0.3">C42</text>
<text transform="translate(511.18 379.65) rotate(90)" font-family='"Liberation Sans", Arial, Helvetica, sans-serif' font-weight="bold" font-size="9.5" stroke="#000" stroke-width="0.3">C43</text>
<text transform="translate(520.04 379.65) rotate(90)" font-family='"Liberation Sans", Arial, Helvetica, sans-serif' font-weight="bold" font-size="9.5" stroke="#000" stroke-width="0.3">C44</text>
<text transform="translate(528.9 379.65) rotate(90)" font-family='"Liberation Sans", Arial, Helvetica, sans-serif' font-weight="bold" font-size="9.5" stroke="#000" stroke-width="0.3">C45</text>
<text transform="translate(537.77 379.65) rotate(90)" font-family='"Liberation Sans", Arial, Helvetica, sans-serif' font-weight="bold" font-size="9.5" stroke="#000" stroke-width="0.3">C46</text>
<clipPath id="cp30"><rect x="43.9" y="407" width="248.1" height="104.8"/></clipPath>
<g clip-path="url(#cp30)" fill="#ff0000" stroke="#000" stroke-width="1.8">
<rect x="44.65" y="496.01" width="7.36" height="15.79"/>
<rect x="53.51" y="500.53" width="7.36" height="11.27"/>
<rect x="62.37" y="496.74" width="7.36" height="15.06"/>
<rect x="71.23" y="500.04" width="7.36" height="11.76"/>
<rect x="80.09" y="494.08" width="7.36" height="17.72"/>
<rect x="88.95" y="493.19" width="7.36" height="18.61"/>
<rect x="97.81" y="482.95" width="7.36" height="28.85"/>
<rect x="106.67" y="481.74" width="7.36" height="30.06"/>
<rect x="115.54" y="500.77" width="7.36" height="11.03"/>
<rect x="133.26" y="502.14" width="7.36" height="9.66"/>
<rect x="142.12" y="501.9" width="7.36" height="9.9"/>
<rect x="168.7" y="501.01" width="7.36" height="10.79"/>
<rect x="177.56" y="499.56" width="7.36" height="12.24"/>
<rect x="186.42" y="501.74" width="7.36" height="10.06"/>
<rect x="195.28" y="498.11" width="7.36" height="13.69"/>
<rect x="204.14" y="499.32" width="7.36" height="12.48"/>
<rect x="213" y="497.71" width="7.36" height="14.09"/>
<rect x="221.86" y="487.23" width="7.36" height="24.57"/>
<rect x="230.73" y="474.17" width="7.36" height="37.63"/>
<rect x="239.59" y="467.56" width="7.36" height="44.24"/>
<rect x="248.45" y="500.53" width="7.36" height="11.27"/>
<rect x="257.31" y="495.53" width="7.36" height="16.27"/>
<rect x="266.17" y="501.01" width="7.36" height="10.79"/>
<rect x="275.03" y="499.32" width="7.36" height="12.48"/>
<rect x="283.89" y="502.62" width="7.36" height="9.18"/>
</g>
<path d="M48.33 407v5M57.19 407v5M66.05 407v5M74.91 407v5M83.77 407v5M92.63 407v5M101.49 407v5M110.36 407v5M119.22 407v5M128.08 407v5M136.94 407v5M145.8 407v5M154.66 407v5M163.52 407v5M172.38 407v5M181.24 407v5M190.1 407v5M198.96 407v5M207.82 407v5M216.68 407v5M225.54 407v5M234.41 407v5M243.27 407v5M252.13 407v5M260.99 407v5M269.85 407v5M278.71 407v5M287.57 407v5M43.9 511.8h5.3M292 511.8h-5.3M43.9 495.68h5.3M292 495.68h-5.3M43.9 479.55h5.3M292 479.55h-5.3M43.9 463.43h5.3M292 463.43h-5.3M43.9 447.31h5.3M292 447.31h-5.3M43.9 431.18h5.3M292 431.18h-5.3M43.9 415.06h5.3M292 415.06h-5.3" stroke="#000" stroke-width="1.2" fill="none"/>
<rect x="43.9" y="407" width="248.1" height="104.8" fill="none" stroke="#000" stroke-width="1.4"/>
<text x="61.2" y="429.8" font-family='"Liberation Serif", "Times New Roman", Times, serif' font-weight="bold" font-size="13.3" stroke="#000" stroke-width="0.25">B2b BDS</text>
<text transform="translate(47.33 512.2) rotate(90)" font-family='"Liberation Sans", Arial, Helvetica, sans-serif' font-weight="bold" font-size="9.5" stroke="#000" stroke-width="0.3">C19</text>
<text transform="translate(56.19 512.2) rotate(90)" font-family='"Liberation Sans", Arial, Helvetica, sans-serif' font-weight="bold" font-size="9.5" stroke="#000" stroke-width="0.3">C20</text>
<text transform="translate(65.05 512.2) rotate(90)" font-family='"Liberation Sans", Arial, Helvetica, sans-serif' font-weight="bold" font-size="9.5" stroke="#000" stroke-width="0.3">C21</text>
<text transform="translate(73.91 512.2) rotate(90)" font-family='"Liberation Sans", Arial, Helvetica, sans-serif' font-weight="bold" font-size="9.5" stroke="#000" stroke-width="0.3">C22</text>
<text transform="translate(82.77 512.2) rotate(90)" font-family='"Liberation Sans", Arial, Helvetica, sans-serif' font-weight="bold" font-size="9.5" stroke="#000" stroke-width="0.3">C23</text>
<text transform="translate(91.63 512.2) rotate(90)" font-family='"Liberation Sans", Arial, Helvetica, sans-serif' font-weight="bold" font-size="9.5" stroke="#000" stroke-width="0.3">C24</text>
<text transform="translate(100.49 512.2) rotate(90)" font-family='"Liberation Sans", Arial, Helvetica, sans-serif' font-weight="bold" font-size="9.5" stroke="#000" stroke-width="0.3">C25</text>
<text transform="translate(109.36 512.2) rotate(90)" font-family='"Liberation Sans", Arial, Helvetica, sans-serif' font-weight="bold" font-size="9.5" stroke="#000" stroke-width="0.3">C26</text>
<text transform="translate(118.22 512.2) rotate(90)" font-family='"Liberation Sans", Arial, Helvetica, sans-serif' font-weight="bold" font-size="9.5" stroke="#000" stroke-width="0.3">C27</text>
<text transform="translate(127.08 512.2) rotate(90)" font-family='"Liberation Sans", Arial, Helvetica, sans-serif' font-weight="bold" font-size="9.5" stroke="#000" stroke-width="0.3">C28</text>
<text transform="translate(135.94 512.2) rotate(90)" font-family='"Liberation Sans", Arial, Helvetica, sans-serif' font-weight="bold" font-size="9.5" stroke="#000" stroke-width="0.3">C29</text>
<text transform="translate(144.8 512.2) rotate(90)" font-family='"Liberation Sans", Arial, Helvetica, sans-serif' font-weight="bold" font-size="9.5" stroke="#000" stroke-width="0.3">C30</text>
<text transform="translate(153.66 512.2) rotate(90)" font-family='"Liberation Sans", Arial, Helvetica, sans-serif' font-weight="bold" font-size="9.5" stroke="#000" stroke-width="0.3">C31</text>
<text transform="translate(162.52 512.2) rotate(90)" font-family='"Liberation Sans", Arial, Helvetica, sans-serif' font-weight="bold" font-size="9.5" stroke="#000" stroke-width="0.3">C32</text>
<text transform="translate(171.38 512.2) rotate(90)" font-family='"Liberation Sans", Arial, Helvetica, sans-serif' font-weight="bold" font-size="9.5" stroke="#000" stroke-width="0.3">C33</text>
<text transform="translate(180.24 512.2) rotate(90)" font-family='"Liberation Sans", Arial, Helvetica, sans-serif' font-weight="bold" font-size="9.5" stroke="#000" stroke-width="0.3">C34</text>
<text transform="translate(189.1 512.2) rotate(90)" font-family='"Liberation Sans", Arial, Helvetica, sans-serif' font-weight="bold" font-size="9.5" stroke="#000" stroke-width="0.3">C35</text>
<text transform="translate(197.96 512.2) rotate(90)" font-family='"Liberation Sans", Arial, Helvetica, sans-serif' font-weight="bold" font-size="9.5" stroke="#000" stroke-width="0.3">C36</text>
<text transform="translate(206.82 512.2) rotate(90)" font-family='"Liberation Sans", Arial, Helvetica, sans-serif' font-weight="bold" font-size="9.5" stroke="#000" stroke-width="0.3">C37</text>
<text transform="translate(215.68 512.2) rotate(90)" font-family='"Liberation Sans", Arial, Helvetica, sans-serif' font-weight="bold" font-size="9.5" stroke="#000" stroke-width="0.3">C38</text>
<text transform="translate(224.54 512.2) rotate(90)" font-family='"Liberation Sans", Arial, Helvetica, sans-serif' font-weight="bold" font-size="9.5" stroke="#000" stroke-width="0.3">C39</text>
<text transform="translate(233.41 512.2) rotate(90)" font-family='"Liberation Sans", Arial, Helvetica, sans-serif' font-weight="bold" font-size="9.5" stroke="#000" stroke-width="0.3">C40</text>
<text transform="translate(242.27 512.2) rotate(90)" font-family='"Liberation Sans", Arial, Helvetica, sans-serif' font-weight="bold" font-size="9.5" stroke="#000" stroke-width="0.3">C41</text>
<text transform="translate(251.13 512.2) rotate(90)" font-family='"Liberation Sans", Arial, Helvetica, sans-serif' font-weight="bold" font-size="9.5" stroke="#000" stroke-width="0.3">C42</text>
<text transform="translate(259.99 512.2) rotate(90)" font-family='"Liberation Sans", Arial, Helvetica, sans-serif' font-weight="bold" font-size="9.5" stroke="#000" stroke-width="0.3">C43</text>
<text transform="translate(268.85 512.2) rotate(90)" font-family='"Liberation Sans", Arial, Helvetica, sans-serif' font-weight="bold" font-size="9.5" stroke="#000" stroke-width="0.3">C44</text>
<text transform="translate(277.71 512.2) rotate(90)" font-family='"Liberation Sans", Arial, Helvetica, sans-serif' font-weight="bold" font-size="9.5" stroke="#000" stroke-width="0.3">C45</text>
<text transform="translate(286.57 512.2) rotate(90)" font-family='"Liberation Sans", Arial, Helvetica, sans-serif' font-weight="bold" font-size="9.5" stroke="#000" stroke-width="0.3">C46</text>
<text x="38.0" y="512.7" text-anchor="end" font-family='"Liberation Sans", Arial, Helvetica, sans-serif' font-weight="bold" font-size="9.4" stroke="#000" stroke-width="0.3">0.0</text>
<text x="38.0" y="496.58" text-anchor="end" font-family='"Liberation Sans", Arial, Helvetica, sans-serif' font-weight="bold" font-size="9.4" stroke="#000" stroke-width="0.3">0.2</text>
<text x="38.0" y="480.45" text-anchor="end" font-family='"Liberation Sans", Arial, Helvetica, sans-serif' font-weight="bold" font-size="9.4" stroke="#000" stroke-width="0.3">0.4</text>
<text x="38.0" y="464.33" text-anchor="end" font-family='"Liberation Sans", Arial, Helvetica, sans-serif' font-weight="bold" font-size="9.4" stroke="#000" stroke-width="0.3">0.6</text>
<text x="38.0" y="448.21" text-anchor="end" font-family='"Liberation Sans", Arial, Helvetica, sans-serif' font-weight="bold" font-size="9.4" stroke="#000" stroke-width="0.3">0.8</text>
<text x="38.0" y="432.08" text-anchor="end" font-family='"Liberation Sans", Arial, Helvetica, sans-serif' font-weight="bold" font-size="9.4" stroke="#000" stroke-width="0.3">1.0</text>
<text x="38.0" y="415.96" text-anchor="end" font-family='"Liberation Sans", Arial, Helvetica, sans-serif' font-weight="bold" font-size="9.4" stroke="#000" stroke-width="0.3">1.2</text>
<clipPath id="cp31"><rect x="295" y="407" width="248.2" height="104.8"/></clipPath>
<g clip-path="url(#cp31)" fill="#ff0000" stroke="#000" stroke-width="1.8">
<rect x="299.78" y="483.76" width="6.14" height="28.04"/>
<rect x="307.42" y="486.34" width="6.14" height="25.46"/>
<rect x="315.06" y="485.86" width="6.14" height="25.94"/>
<rect x="322.69" y="474.73" width="6.14" height="37.07"/>
<rect x="337.97" y="474.09" width="6.14" height="37.71"/>
<rect x="345.6" y="492.79" width="6.14" height="19.01"/>
<rect x="353.24" y="487.55" width="6.14" height="24.25"/>
<rect x="360.88" y="475.7" width="6.14" height="36.1"/>
<rect x="368.51" y="495.13" width="6.14" height="16.67"/>
<rect x="383.79" y="484.48" width="6.14" height="27.32"/>
<rect x="391.43" y="487.79" width="6.14" height="24.01"/>
<rect x="399.06" y="479" width="6.14" height="32.8"/>
<rect x="406.7" y="502.3" width="6.14" height="9.5"/>
<rect x="414.34" y="484" width="6.14" height="27.8"/>
<rect x="421.97" y="481.18" width="6.14" height="30.62"/>
<rect x="429.61" y="494.64" width="6.14" height="17.16"/>
<rect x="437.25" y="472.15" width="6.14" height="39.65"/>
<rect x="444.88" y="494.24" width="6.14" height="17.56"/>
<rect x="452.52" y="481.82" width="6.14" height="29.98"/>
<rect x="467.8" y="485.86" width="6.14" height="25.94"/>
<rect x="475.43" y="482.55" width="6.14" height="29.25"/>
<rect x="483.07" y="484.73" width="6.14" height="27.07"/>
<rect x="490.71" y="476.91" width="6.14" height="34.89"/>
<rect x="513.62" y="487.31" width="6.14" height="24.49"/>
<rect x="521.25" y="489" width="6.14" height="22.8"/>
<rect x="528.89" y="449.58" width="6.14" height="62.22"/>
<rect x="536.53" y="493.27" width="6.14" height="18.53"/>
</g>
<path d="M302.85 407v5M310.49 407v5M318.12 407v5M325.76 407v5M333.4 407v5M341.04 407v5M348.67 407v5M356.31 407v5M363.95 407v5M371.58 407v5M379.22 407v5M386.86 407v5M394.49 407v5M402.13 407v5M409.77 407v5M417.41 407v5M425.04 407v5M432.68 407v5M440.32 407v5M447.95 407v5M455.59 407v5M463.23 407v5M470.86 407v5M478.5 407v5M486.14 407v5M493.77 407v5M501.41 407v5M509.05 407v5M516.69 407v5M524.32 407v5M531.96 407v5M539.6 407v5M295 511.8h5.3M543.2 511.8h-5.3M295 495.68h5.3M543.2 495.68h-5.3M295 479.55h5.3M543.2 479.55h-5.3M295 463.43h5.3M543.2 463.43h-5.3M295 447.31h5.3M543.2 447.31h-5.3M295 431.18h5.3M543.2 431.18h-5.3M295 415.06h5.3M543.2 415.06h-5.3" stroke="#000" stroke-width="1.2" fill="none"/>
<rect x="295" y="407" width="248.2" height="104.8" fill="none" stroke="#000" stroke-width="1.4"/>
<text x="315.3" y="430.2" font-family='"Liberation Serif", "Times New Roman", Times, serif' font-weight="bold" font-size="13.3" stroke="#000" stroke-width="0.25">B2b GPS</text>
<text transform="translate(302.85 512.2) rotate(90)" font-family='"Liberation Sans", Arial, Helvetica, sans-serif' font-weight="bold" font-size="9.5" stroke="#000" stroke-width="0.3">G01</text>
<text transform="translate(310.49 512.2) rotate(90)" font-family='"Liberation Sans", Arial, Helvetica, sans-serif' font-weight="bold" font-size="9.5" stroke="#000" stroke-width="0.3">G02</text>
<text transform="translate(318.12 512.2) rotate(90)" font-family='"Liberation Sans", Arial, Helvetica, sans-serif' font-weight="bold" font-size="9.5" stroke="#000" stroke-width="0.3">G03</text>
<text transform="translate(325.76 512.2) rotate(90)" font-family='"Liberation Sans", Arial, Helvetica, sans-serif' font-weight="bold" font-size="9.5" stroke="#000" stroke-width="0.3">G04</text>
<text transform="translate(333.4 512.2) rotate(90)" font-family='"Liberation Sans", Arial, Helvetica, sans-serif' font-weight="bold" font-size="9.5" stroke="#000" stroke-width="0.3">G05</text>
<text transform="translate(341.04 512.2) rotate(90)" font-family='"Liberation Sans", Arial, Helvetica, sans-serif' font-weight="bold" font-size="9.5" stroke="#000" stroke-width="0.3">G06</text>
<text transform="translate(348.67 512.2) rotate(90)" font-family='"Liberation Sans", Arial, Helvetica, sans-serif' font-weight="bold" font-size="9.5" stroke="#000" stroke-width="0.3">G07</text>
<text transform="translate(356.31 512.2) rotate(90)" font-family='"Liberation Sans", Arial, Helvetica, sans-serif' font-weight="bold" font-size="9.5" stroke="#000" stroke-width="0.3">G08</text>
<text transform="translate(363.95 512.2) rotate(90)" font-family='"Liberation Sans", Arial, Helvetica, sans-serif' font-weight="bold" font-size="9.5" stroke="#000" stroke-width="0.3">G09</text>
<text transform="translate(371.58 512.2) rotate(90)" font-family='"Liberation Sans", Arial, Helvetica, sans-serif' font-weight="bold" font-size="9.5" stroke="#000" stroke-width="0.3">G10</text>
<text transform="translate(379.22 512.2) rotate(90)" font-family='"Liberation Sans", Arial, Helvetica, sans-serif' font-weight="bold" font-size="9.5" stroke="#000" stroke-width="0.3">G11</text>
<text transform="translate(386.86 512.2) rotate(90)" font-family='"Liberation Sans", Arial, Helvetica, sans-serif' font-weight="bold" font-size="9.5" stroke="#000" stroke-width="0.3">G12</text>
<text transform="translate(394.49 512.2) rotate(90)" font-family='"Liberation Sans", Arial, Helvetica, sans-serif' font-weight="bold" font-size="9.5" stroke="#000" stroke-width="0.3">G13</text>
<text transform="translate(402.13 512.2) rotate(90)" font-family='"Liberation Sans", Arial, Helvetica, sans-serif' font-weight="bold" font-size="9.5" stroke="#000" stroke-width="0.3">G14</text>
<text transform="translate(409.77 512.2) rotate(90)" font-family='"Liberation Sans", Arial, Helvetica, sans-serif' font-weight="bold" font-size="9.5" stroke="#000" stroke-width="0.3">G15</text>
<text transform="translate(417.41 512.2) rotate(90)" font-family='"Liberation Sans", Arial, Helvetica, sans-serif' font-weight="bold" font-size="9.5" stroke="#000" stroke-width="0.3">G16</text>
<text transform="translate(425.04 512.2) rotate(90)" font-family='"Liberation Sans", Arial, Helvetica, sans-serif' font-weight="bold" font-size="9.5" stroke="#000" stroke-width="0.3">G17</text>
<text transform="translate(432.68 512.2) rotate(90)" font-family='"Liberation Sans", Arial, Helvetica, sans-serif' font-weight="bold" font-size="9.5" stroke="#000" stroke-width="0.3">G18</text>
<text transform="translate(440.32 512.2) rotate(90)" font-family='"Liberation Sans", Arial, Helvetica, sans-serif' font-weight="bold" font-size="9.5" stroke="#000" stroke-width="0.3">G19</text>
<text transform="translate(447.95 512.2) rotate(90)" font-family='"Liberation Sans", Arial, Helvetica, sans-serif' font-weight="bold" font-size="9.5" stroke="#000" stroke-width="0.3">G20</text>
<text transform="translate(455.59 512.2) rotate(90)" font-family='"Liberation Sans", Arial, Helvetica, sans-serif' font-weight="bold" font-size="9.5" stroke="#000" stroke-width="0.3">G21</text>
<text transform="translate(463.23 512.2) rotate(90)" font-family='"Liberation Sans", Arial, Helvetica, sans-serif' font-weight="bold" font-size="9.5" stroke="#000" stroke-width="0.3">G22</text>
<text transform="translate(470.86 512.2) rotate(90)" font-family='"Liberation Sans", Arial, Helvetica, sans-serif' font-weight="bold" font-size="9.5" stroke="#000" stroke-width="0.3">G23</text>
<text transform="translate(478.5 512.2) rotate(90)" font-family='"Liberation Sans", Arial, Helvetica, sans-serif' font-weight="bold" font-size="9.5" stroke="#000" stroke-width="0.3">G24</text>
<text transform="translate(486.14 512.2) rotate(90)" font-family='"Liberation Sans", Arial, Helvetica, sans-serif' font-weight="bold" font-size="9.5" stroke="#000" stroke-width="0.3">G25</text>
<text transform="translate(493.77 512.2) rotate(90)" font-family='"Liberation Sans", Arial, Helvetica, sans-serif' font-weight="bold" font-size="9.5" stroke="#000" stroke-width="0.3">G26</text>
<text transform="translate(501.41 512.2) rotate(90)" font-family='"Liberation Sans", Arial, Helvetica, sans-serif' font-weight="bold" font-size="9.5" stroke="#000" stroke-width="0.3">G27</text>
<text transform="translate(509.05 512.2) rotate(90)" font-family='"Liberation Sans", Arial, Helvetica, sans-serif' font-weight="bold" font-size="9.5" stroke="#000" stroke-width="0.3">G28</text>
<text transform="translate(516.69 512.2) rotate(90)" font-family='"Liberation Sans", Arial, Helvetica, sans-serif' font-weight="bold" font-size="9.5" stroke="#000" stroke-width="0.3">G29</text>
<text transform="translate(524.32 512.2) rotate(90)" font-family='"Liberation Sans", Arial, Helvetica, sans-serif' font-weight="bold" font-size="9.5" stroke="#000" stroke-width="0.3">G30</text>
<text transform="translate(531.96 512.2) rotate(90)" font-family='"Liberation Sans", Arial, Helvetica, sans-serif' font-weight="bold" font-size="9.5" stroke="#000" stroke-width="0.3">G31</text>
<text transform="translate(539.6 512.2) rotate(90)" font-family='"Liberation Sans", Arial, Helvetica, sans-serif' font-weight="bold" font-size="9.5" stroke="#000" stroke-width="0.3">G32</text>
<rect x="139.7" y="152.7" width="67.8" height="42.6" fill="#fff"/>
<clipPath id="cpi1"><rect x="139.7" y="152.7" width="67.8" height="42.6"/></clipPath>
<g clip-path="url(#cpi1)" fill="#ff0000" stroke="#000" stroke-width="2.3">
<rect x="139.85" y="184.45" width="20.6" height="10.85"/>
<rect x="165.15" y="180.75" width="17.8" height="14.55"/>
<rect x="188.05" y="163.05" width="19.6" height="32.25"/>
</g>
<path d="M151 152.7v4.5M162.3 152.7v4.5M173.6 152.7v4.5M184.9 152.7v4.5M196.2 152.7v4.5M139.7 160.2h4.8M207.5 160.2h-4.8M139.7 167.6h4.8M207.5 167.6h-4.8M139.7 175h4.8M207.5 175h-4.8M139.7 182.2h4.8M207.5 182.2h-4.8M139.7 189.2h4.8M207.5 189.2h-4.8" stroke="#000" stroke-width="1.2" fill="none"/>
<rect x="139.7" y="152.7" width="67.8" height="42.6" fill="none" stroke="#000" stroke-width="1.4"/>
<text x="133.6" y="152.4" text-anchor="end" font-family='"Liberation Sans", Arial, Helvetica, sans-serif' font-weight="bold" font-size="7.2" stroke="#000" stroke-width="0.25">7</text>
<text x="133.6" y="160.1" text-anchor="end" font-family='"Liberation Sans", Arial, Helvetica, sans-serif' font-weight="bold" font-size="7.2" stroke="#000" stroke-width="0.25">6</text>
<text x="133.6" y="167.7" text-anchor="end" font-family='"Liberation Sans", Arial, Helvetica, sans-serif' font-weight="bold" font-size="7.2" stroke="#000" stroke-width="0.25">5</text>
<text x="133.6" y="175.1" text-anchor="end" font-family='"Liberation Sans", Arial, Helvetica, sans-serif' font-weight="bold" font-size="7.2" stroke="#000" stroke-width="0.25">4</text>
<text x="133.6" y="182.4" text-anchor="end" font-family='"Liberation Sans", Arial, Helvetica, sans-serif' font-weight="bold" font-size="7.2" stroke="#000" stroke-width="0.25">3</text>
<text x="133.6" y="189.8" text-anchor="end" font-family='"Liberation Sans", Arial, Helvetica, sans-serif' font-weight="bold" font-size="7.2" stroke="#000" stroke-width="0.25">2</text>
<rect x="146" y="287.6" width="58.9" height="34.8" fill="#fff"/>
<rect x="168.05" y="299.85" width="15.3" height="22.55" fill="#ff0000" stroke="#000" stroke-width="2.3"/>
<path d="M155.82 287.6v4.5M175.45 287.6v4.5M195.08 287.6v4.5M146 304.8h5M204.9 304.8h-5" stroke="#000" stroke-width="1.2" fill="none"/>
<rect x="146" y="287.6" width="58.9" height="34.8" fill="none" stroke="#000" stroke-width="1.4"/>
<text x="139.6" y="287.5" text-anchor="end" font-family='"Liberation Sans", Arial, Helvetica, sans-serif' font-weight="bold" font-size="7.2" stroke="#000" stroke-width="0.25">1.4</text>
<text x="139.6" y="304.8" text-anchor="end" font-family='"Liberation Sans", Arial, Helvetica, sans-serif' font-weight="bold" font-size="7.2" stroke="#000" stroke-width="0.25">1.3</text>
<text x="139.6" y="322.2" text-anchor="end" font-family='"Liberation Sans", Arial, Helvetica, sans-serif' font-weight="bold" font-size="7.2" stroke="#000" stroke-width="0.25">1.2</text>
<text transform="translate(16.6 260) rotate(-90)" text-anchor="middle" font-family='"Liberation Serif", "Times New Roman", Times, serif' font-weight="bold" font-size="13.8" stroke="#000" stroke-width="0.25">STD of Clock(ns)</text>
</svg>
</body></html>
